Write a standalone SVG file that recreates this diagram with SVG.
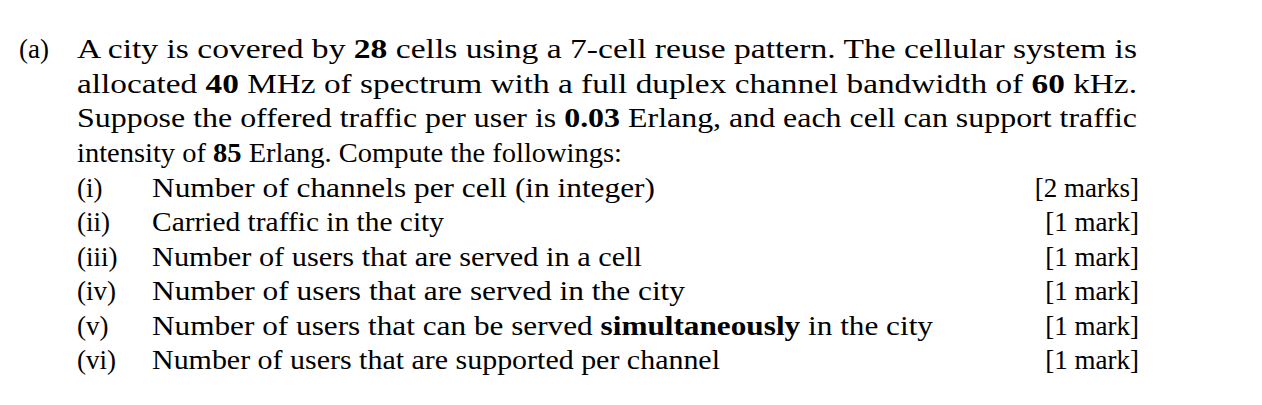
<svg xmlns="http://www.w3.org/2000/svg" width="1262" height="405" viewBox="0 0 1262 405">
<style>
text{font-family:"Liberation Serif","Times New Roman",serif;font-size:27px;fill:#000}
.m{text-anchor:end}
</style>
<rect width="1262" height="405" fill="#fff"/>
<g id="question">
<text x="19" y="58">(a)</text>
<text x="77" y="58" textLength="1060" lengthAdjust="spacingAndGlyphs">A city is covered by <tspan font-weight="bold">28</tspan> cells using a 7-cell reuse pattern. The cellular system is</text>
<text x="77" y="93" textLength="1060" lengthAdjust="spacingAndGlyphs">allocated <tspan font-weight="bold">40</tspan> MHz of spectrum with a full duplex channel bandwidth of <tspan font-weight="bold">60</tspan> kHz.</text>
<text x="77" y="127" textLength="1060" lengthAdjust="spacingAndGlyphs">Suppose the offered traffic per user is <tspan font-weight="bold">0.03</tspan> Erlang, and each cell can support traffic</text>
<text x="77" y="162" textLength="545" lengthAdjust="spacingAndGlyphs">intensity of <tspan font-weight="bold">85</tspan> Erlang. Compute the followings:</text>
</g>
<g id="items">
<text x="77" y="197">(i)</text><text x="152" y="197" textLength="503" lengthAdjust="spacingAndGlyphs">Number of channels per cell (in integer)</text><text class="m" x="1139" y="197">[2 marks]</text>
<text x="77" y="231">(ii)</text><text x="152" y="231" textLength="292" lengthAdjust="spacingAndGlyphs">Carried traffic in the city</text><text class="m" x="1139" y="231">[1 mark]</text>
<text x="77" y="266">(iii)</text><text x="152" y="266" textLength="490" lengthAdjust="spacingAndGlyphs">Number of users that are served in a cell</text><text class="m" x="1139" y="266">[1 mark]</text>
<text x="77" y="300">(iv)</text><text x="152" y="300" textLength="533" lengthAdjust="spacingAndGlyphs">Number of users that are served in the city</text><text class="m" x="1139" y="300">[1 mark]</text>
<text x="77" y="335">(v)</text><text x="152" y="335" textLength="781" lengthAdjust="spacingAndGlyphs">Number of users that can be served <tspan font-weight="bold">simultaneously</tspan> in the city</text><text class="m" x="1139" y="335">[1 mark]</text>
<text x="77" y="369">(vi)</text><text x="152" y="369" textLength="568" lengthAdjust="spacingAndGlyphs">Number of users that are supported per channel</text><text class="m" x="1139" y="369">[1 mark]</text>
</g>
</svg>
